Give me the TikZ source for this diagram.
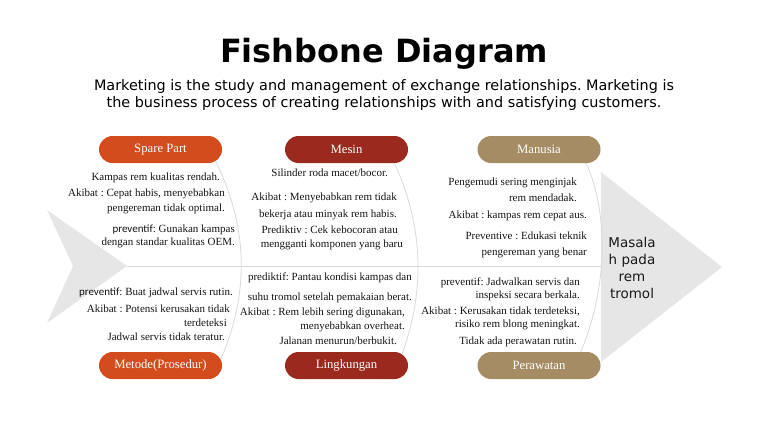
\documentclass[tikz,border=0pt]{standalone}
\usepackage{fontspec}
\setmainfont{Liberation Serif}
\newfontfamily\dvfont{DejaVu Sans}
\newfontfamily\calfont{Carlito}
\definecolor{cOrange}{HTML}{D24C1E}
\definecolor{cRed}{HTML}{9B2A1E}
\definecolor{cTan}{HTML}{A68C64}
\definecolor{cGray}{HTML}{E6E6E6}
\definecolor{cLine}{HTML}{D9D9D9}
\frenchspacing
\begin{document}
\begin{tikzpicture}[x=1pt,y=-1pt,
  pill/.style={rounded corners=13.5pt, minimum width=123pt, minimum height=27pt, inner sep=0pt, text=white, font=\fontsize{12.7}{14}\selectfont},
  txt/.style={anchor=base east, inner sep=0pt, font=\fontsize{11}{12}\selectfont, text=black!92},
  bone/.style={draw=cLine, line width=0.8pt}]
\useasboundingbox (0,0) rectangle (768,432);
% title
\node[font=\dvfont\bfseries\fontsize{32}{36}\selectfont] (title) at (384,54) {Fishbone Diagram};
\node[font=\dvfont\fontsize{14.4}{17}\selectfont, align=center] (sub) at (384,95) {Marketing is the study and management of exchange relationships. Marketing is\\the business process of creating relationships with and satisfying customers.};
% tail and head
\fill[cGray] (47,210) -- (127,266) -- (47,323) -- (73,266) -- cycle;
\fill[cGray] (601,172) -- (722,267) -- (601,362) -- cycle;
\coordinate (tail) at (127,266);
\coordinate (head) at (601,266);
\draw[bone] (tail) -- (head);
% curved bones
\coordinate (b1t) at (215,160); \coordinate (b1b) at (215,372);
\coordinate (b2t) at (393,160); \coordinate (b2b) at (395,372);
\coordinate (b3t) at (585,160); \coordinate (b3b) at (575,365);
\draw[bone] (b1t) .. controls (250,230) and (250,300) .. (b1b);
\draw[bone] (b2t) .. controls (426,230) and (426,300) .. (b2b);
\draw[bone] (b3t) .. controls (612,220) and (606,300) .. (b3b);
% pills
\node[pill, fill=cOrange] (spare) at (160.5,149.5) {Spare Part};
\node[pill, fill=cRed] (mesin) at (346.5,149.5) {Mesin};
\node[pill, fill=cTan] (manusia) at (539,149.5) {\raisebox{-2pt}{Manusia}};
\node[pill, fill=cOrange] (metode) at (160.5,365.5) {\raisebox{-3pt}{Metode(Prosedur)}};
\node[pill, fill=cRed] (lingk) at (346.5,365.5) {Lingkungan};
\node[pill, fill=cTan] (rawat) at (539,365.5) {Perawatan};
% Spare Part texts
\node[txt] (s1) at (220,180.5) {Kampas rem kualitas rendah.};
\node[txt] (s2) at (225,196.5) {Akibat : Cepat habis, menyebabkan};
\node[txt] (s3) at (225,211.5) {pengereman tidak optimal.};
\node[txt] (s4) at (235,232.5) {{\calfont preventif}: Gunakan kampas};
\node[txt] (s5) at (235,245.5) {dengan standar kualitas OEM.};
% Metode texts
\node[txt] (m1) at (233,295.5) {{\calfont preventif}: Buat jadwal servis rutin.};
\node[txt] (m2) at (230,312.5) {Akibat : Potensi kerusakan tidak};
\node[txt] (m3) at (227,326.5) {terdeteksi};
\node[txt] (m4) at (225,340.5) {Jadwal servis tidak teratur.};
% Mesin texts
\node[txt] (e1) at (388,176.5) {Silinder roda macet/bocor.};
\node[txt] (e2) at (397,200.5) {Akibat : Menyebabkan rem tidak};
\node[txt] (e3) at (397,217.5) {bekerja atau minyak rem habis.};
\node[txt] (e4) at (398,233.5) {Prediktiv : Cek kebocoran atau};
\node[txt] (e5) at (403,247.5) {mengganti komponen yang baru};
% Lingkungan texts
\node[txt] (l1) at (412,280.5) {prediktif: Pantau kondisi kampas dan};
\node[txt] (l2) at (412,300.5) {suhu tromol setelah pemakaian berat.};
\node[txt] (l3) at (405,315.5) {Akibat : Rem lebih sering digunakan,};
\node[txt] (l4) at (405,329.5) {menyebabkan overheat.};
\node[txt] (l5) at (397,344.5) {Jalanan menurun/berbukit.};
% Manusia texts
\node[txt] (h1) at (577,185.5) {Pengemudi sering menginjak};
\node[txt] (h2) at (577,201.5) {rem mendadak.};
\node[txt] (h3) at (587,218.5) {Akibat : kampas rem cepat aus.};
\node[txt] (h4) at (587,239.5) {Preventive : Edukasi teknik};
\node[txt] (h5) at (587,255.5) {pengereman yang benar};
% Perawatan texts
\node[txt] (p1) at (580,285.5) {preventif: Jadwalkan servis dan};
\node[txt] (p2) at (580,298.5) {inspeksi secara berkala.};
\node[txt] (p3) at (580,314.5) {Akibat : Kerusakan tidak terdeteksi,};
\node[txt] (p4) at (580,327.5) {risiko rem blong meningkat.};
\node[txt] (p5) at (577,344.5) {Tidak ada perawatan rutin.};
% head label
\node[font=\dvfont\fontsize{13.5}{17}\selectfont, align=center, text=black!90] (problem) at (632,267.5) {Masala\\h pada\\rem\\tromol};
\end{tikzpicture}
\end{document}
